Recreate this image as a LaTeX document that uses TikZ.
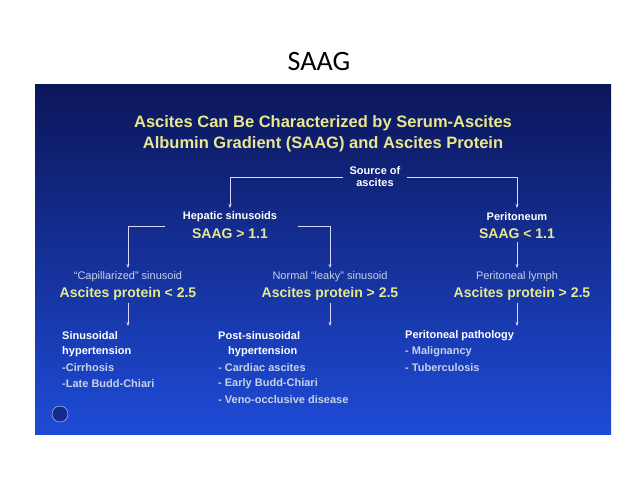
\documentclass[tikz,border=0pt]{standalone}
\usepackage{fontspec}
\usetikzlibrary{arrows.meta}
\setmainfont{Liberation Sans}
\newfontfamily\titlefont{Carlito}
\definecolor{navytop}{RGB}{12,22,90}
\definecolor{bluebot}{RGB}{30,75,215}
\definecolor{hilite}{RGB}{232,232,140}
\definecolor{subtext}{RGB}{200,210,232}
\tikzset{
  txt/.style={text=white, font=\bfseries\fontsize{11}{12}\selectfont, inner sep=0pt, align=center},
  hl/.style={text=hilite, font=\bfseries\fontsize{14}{15}\selectfont, inner sep=0pt},
  itm/.style={text=subtext, font=\bfseries\fontsize{11}{12}\selectfont, inner sep=0pt, anchor=west},
  hd/.style={text=white, font=\bfseries\fontsize{11}{12}\selectfont, inner sep=0pt, anchor=west},
  link/.style={white!85!blue, thick, -{Stealth[length=4pt]}}
}
\begin{document}
\begin{tikzpicture}[x=1pt,y=-1pt]
\useasboundingbox (0,0) rectangle (638,478);
\fill[white] (0,0) rectangle (638,478);
\shade[top color=navytop, bottom color=bluebot] (35,85) rectangle (611,435);
\node[font=\titlefont\fontsize{28}{30}\selectfont] (Title) at (319,62) {SAAG};
% heading of the slide
\node[hl, font=\bfseries\fontsize{16.5}{18}\selectfont] (Head1) at (323,123) {Ascites Can Be Characterized by Serum-Ascites};
\node[hl, font=\bfseries\fontsize{16.5}{18}\selectfont] (Head2) at (323,144) {Albumin Gradient (SAAG) and Ascites Protein};
% source
\node[txt] (Source) at (375,177) {Source of\\ascites};
\coordinate (HepTop) at (230,208);
\coordinate (PerTop) at (517,208);
\draw[link] (Source.west) ++(-6,0) -| (HepTop);
\draw[link] (Source.east) ++(6,0) -| (PerTop);
% second row
\node[txt] (Hep) at (230,217) {Hepatic sinusoids};
\node[hl] (HepSaag) at (230,234) {SAAG > 1.1};
\node[txt] (Per) at (517,217) {Peritoneum};
\node[hl] (PerSaag) at (517,234) {SAAG < 1.1};
\coordinate (CapTop) at (128,268);
\coordinate (LeakTop) at (330,268);
\coordinate (LymTop) at (517,268);
\draw[link] (165,226) -| (CapTop);
\draw[link] (298,226) -| (LeakTop);
\draw[link] (PerSaag.south) ++(0,3) -- (LymTop);
% third row
\node[txt, font=\fontsize{11}{12}\selectfont, text=subtext] (Cap) at (128,277) {``Capillarized'' sinusoid};
\node[hl] (CapProt) at (128,294) {Ascites protein < 2.5};
\node[txt, font=\fontsize{11}{12}\selectfont, text=subtext] (Leak) at (330,277) {Normal ``leaky'' sinusoid};
\node[hl] (LeakProt) at (330,294) {Ascites protein > 2.5};
\node[txt, font=\fontsize{11}{12}\selectfont, text=subtext] (Lym) at (517,277) {Peritoneal lymph};
\node[hl] (LymProt) at (522,294) {Ascites protein > 2.5};
\coordinate (SinBot) at (128,326);
\coordinate (PostBot) at (330,326);
\coordinate (PathBot) at (517,326);
\draw[link] (128,303) -- (SinBot);
\draw[link] (330,303) -- (PostBot);
\draw[link] (517,303) -- (PathBot);
% fourth row
\node[hd] (Sin1) at (62,336) {Sinusoidal};
\node[hd] (Sin2) at (62,352) {hypertension};
\node[itm] (Sin3) at (62,368) {-Cirrhosis};
\node[itm] (Sin4) at (62,384) {-Late Budd-Chiari};
\node[hd] (Post1) at (218,336) {Post-sinusoidal};
\node[hd] (Post2) at (228,352) {hypertension};
\node[itm] (Post3) at (218,368) {- Cardiac ascites};
\node[itm] (Post4) at (218,384) {- Early Budd-Chiari};
\node[itm] (Post5) at (218,400) {- Veno-occlusive disease};
\node[hd] (Path1) at (405,336) {Peritoneal pathology};
\node[itm] (Path2) at (405,352) {- Malignancy};
\node[itm] (Path3) at (405,368) {- Tuberculosis};
% logo
\node[draw=subtext, fill=navytop!60!bluebot, circle, minimum size=16pt, inner sep=0pt] (Logo) at (60,414) {};
\end{tikzpicture}
\end{document}
